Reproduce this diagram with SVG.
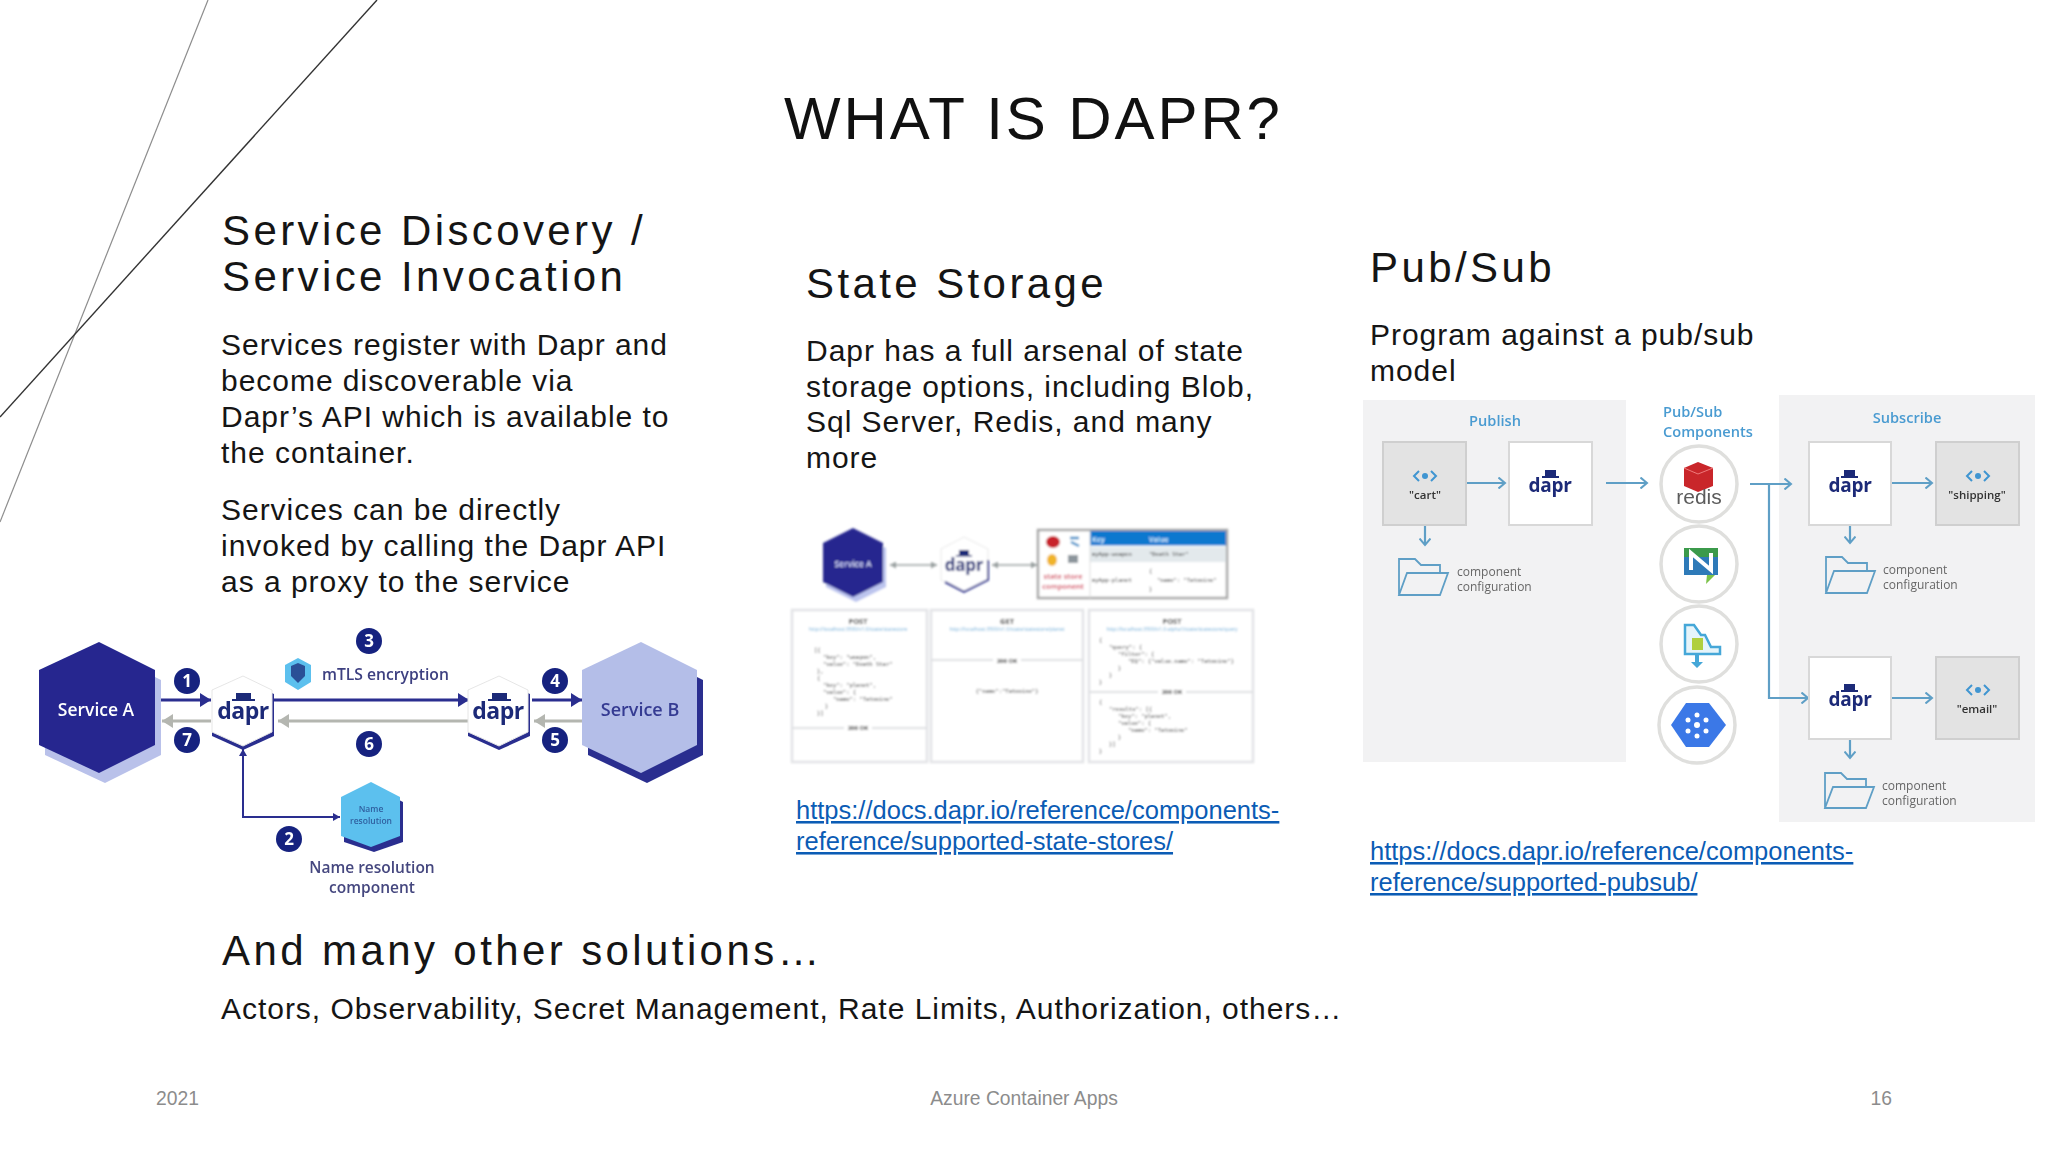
<svg xmlns="http://www.w3.org/2000/svg" width="2048" height="1152" viewBox="0 0 2048 1152">
<style>
text{font-family:"Liberation Sans",Arial,sans-serif}
.title{font-size:60px;letter-spacing:2.9px;fill:#111}
.h{font-size:42px;letter-spacing:3.4px;fill:#151515}
.b{font-size:30px;letter-spacing:.97px;fill:#151515}
.l{font-size:25.5px;fill:#0b5cb5;text-decoration:underline}
.f{font-size:19.3px;fill:#8c8c8c}
.os{font-family:"Open Sans","Noto Sans",sans-serif}
.w6{font-weight:600}
.dapr{font-family:"Open Sans","Noto Sans",sans-serif;font-weight:700;fill:#1f2a78;text-anchor:middle}
.num{font-family:"Open Sans",sans-serif;font-size:17px;font-weight:700;fill:#fff;text-anchor:middle}
.ln{fill:none;stroke:#2a2f8f;stroke-width:3}
.gl{fill:none;stroke:#b4b6b0;stroke-width:3}
.bl{fill:none;stroke:#5f9fc6;stroke-width:2.2}
.pubt{font-family:"Open Sans",sans-serif;font-weight:600;font-size:14.6px;fill:#4a9bd1}
.cfg{font-family:"Open Sans",sans-serif;font-size:12px;fill:#666}
.svc{font-family:"Open Sans",sans-serif;font-size:11.5px;font-weight:600;fill:#333;text-anchor:middle}
.box{fill:#e3e3e3;stroke:#cfcfcf;stroke-width:2}
.wb{fill:#fff;stroke:#d8d8d8;stroke-width:2}
.circ{fill:#fff;stroke:#dfdfdd;stroke-width:3.5}
.panel{fill:#fff;stroke:#e2e3e6;stroke-width:2.5}
.code{font-family:"DejaVu Sans Mono",monospace;font-size:5.5px;fill:#333}
.url{font-family:"Open Sans",sans-serif;font-size:5px;fill:#6cacd8;text-anchor:middle}
.cap{font-family:"Open Sans",sans-serif;font-weight:700;font-size:7.5px;fill:#333;text-anchor:middle}
.ok{font-family:"Open Sans",sans-serif;font-weight:700;font-size:6px;fill:#333;text-anchor:middle}
.div{stroke:#dfe0e3;stroke-width:2}
.folder{fill:none;stroke:#5f9fc6;stroke-width:1.8}
</style>
<defs>
<filter id="blur" x="-5%" y="-5%" width="110%" height="110%"><feGaussianBlur stdDeviation="0.6"/></filter>
<filter id="blur2" x="-5%" y="-5%" width="110%" height="110%"><feGaussianBlur stdDeviation="0.8"/></filter>
<marker id="an" markerUnits="userSpaceOnUse" markerWidth="12" markerHeight="14" refX="11" refY="7" orient="auto"><path d="M0 0L11 7L0 14z" fill="#2a2f8f"/></marker>
<marker id="ag" markerUnits="userSpaceOnUse" markerWidth="12" markerHeight="14" refX="11" refY="7" orient="auto"><path d="M0 0L11 7L0 14z" fill="#b4b6b0"/></marker>
<marker id="as" markerUnits="userSpaceOnUse" markerWidth="8" markerHeight="8" refX="7" refY="4" orient="auto"><path d="M0 0L7 4L0 8z" fill="#2a2f8f"/></marker>
<marker id="ab" markerUnits="userSpaceOnUse" markerWidth="9" markerHeight="12" refX="7.5" refY="6" orient="auto"><path d="M1 0.5L7.5 6L1 11.5" fill="none" stroke="#5f9fc6" stroke-width="2"/></marker>
<marker id="sg" markerUnits="userSpaceOnUse" markerWidth="7" markerHeight="7" refX="6" refY="3.5" orient="auto-start-reverse"><path d="M0 0L6 3.5L0 7z" fill="#9aa0a0"/></marker>
</defs>
<rect width="2048" height="1152" fill="#fff"/>
<g id="decor" fill="none">
<path d="M208 0L0 522" stroke="#8d8d8d" stroke-width="1.2"/>
<path d="M377 0L0 417" stroke="#333" stroke-width="1.4"/>
</g>
<text class="title" x="784" y="139">WHAT IS DAPR?</text>
<g id="col1">
<text class="h" x="222" y="245">Service Discovery /</text>
<text class="h" x="222" y="291">Service Invocation</text>
<text class="b" x="221" y="355">Services register with Dapr and</text>
<text class="b" x="221" y="391">become discoverable via</text>
<text class="b" x="221" y="427">Dapr’s API which is available to</text>
<text class="b" x="221" y="463">the container.</text>
<text class="b" x="221" y="520">Services can be directly</text>
<text class="b" x="221" y="556">invoked by calling the Dapr API</text>
<text class="b" x="221" y="592">as a proxy to the service</text>
</g>
<g id="col2">
<text class="h" x="806" y="298">State Storage</text>
<text class="b" x="806" y="361">Dapr has a full arsenal of state</text>
<text class="b" x="806" y="397">storage options, including Blob,</text>
<text class="b" x="806" y="432">Sql Server, Redis, and many</text>
<text class="b" x="806" y="468">more</text>
<text class="l" x="796" y="819">https://docs.dapr.io/reference/components-</text>
<text class="l" x="796" y="850">reference/supported-state-stores/</text>
</g>
<g id="col3">
<text class="h" x="1370" y="282">Pub/Sub</text>
<text class="b" x="1370" y="345">Program against a pub/sub</text>
<text class="b" x="1370" y="381">model</text>
<text class="l" x="1370" y="860">https://docs.dapr.io/reference/components-</text>
<text class="l" x="1370" y="891">reference/supported-pubsub/</text>
</g>
<g id="more">
<text class="h" x="222" y="965">And many other solutions…</text>
<text class="b" x="221" y="1019">Actors, Observability, Secret Management, Rate Limits, Authorization, others…</text>
</g>
<g id="footer">
<text class="f" x="156" y="1105">2021</text>
<text class="f" x="1024" y="1105" text-anchor="middle">Azure Container Apps</text>
<text class="f" x="1892" y="1105" text-anchor="end">16</text>
</g>

<g id="invocation-diagram" filter="url(#blur)">
<g id="connectors-invocation">
<path class="ln" d="M161 700H211" marker-end="url(#an)"/>
<path class="gl" d="M211 721H162" marker-end="url(#ag)"/>
<path class="ln" d="M274 700H469" marker-end="url(#an)"/>
<path class="gl" d="M468 721H278" marker-end="url(#ag)"/>
<path class="ln" d="M532 700H582" marker-end="url(#an)"/>
<path class="gl" d="M582 721H534" marker-end="url(#ag)"/>
<path d="M340 817H243V749" fill="none" stroke="#2a2f8f" stroke-width="2" marker-end="url(#as)"/>
<path d="M334 817H340" fill="none" stroke="#2a2f8f" stroke-width="2" marker-end="url(#as)"/>
</g>
<g id="service-a">
<polygon points="105,652 161,680 161,755 105,783 45,755 45,680" fill="#b9c1ea"/>
<polygon points="99,642 155,670 155,745 99,773 39,745 39,670" fill="#25288f"/>
<text class="os w6" x="96" y="716" font-size="17.500" fill="#fff" text-anchor="middle">Service A</text>
</g>
<g id="dapr-a">
<polygon points="243,680 274,694 274,736 243,750 212,736 212,694" fill="#2a2f8f"/>
<polygon points="243,676 272,690 272,732 243,746 212,732 212,690" fill="#fff" stroke="#e6e6e6"/>
<rect x="236" y="693" width="15" height="7" fill="#1f2a78"/><rect x="232" y="699" width="23" height="2" fill="#1f2a78"/>
<text class="dapr" x="243" y="719" font-size="23" letter-spacing="-.5">dapr</text>
</g>
<g id="dapr-b">
<polygon points="499,680 530,694 530,736 499,750 468,736 468,694" fill="#2a2f8f"/>
<polygon points="499,676 528,690 528,732 499,746 468,732 468,690" fill="#fff" stroke="#e6e6e6"/>
<rect x="492" y="693" width="15" height="7" fill="#1f2a78"/><rect x="488" y="699" width="23" height="2" fill="#1f2a78"/>
<text class="dapr" x="498" y="719" font-size="23" letter-spacing="-.5">dapr</text>
</g>
<g id="service-b">
<polygon points="647,652 703,680 703,755 647,783 588,755 588,680" fill="#2a2f8f"/>
<polygon points="641,642 697,670 697,745 641,773 582,745 582,670" fill="#b4bee8"/>
<text class="os w6" x="640" y="716" font-size="18" fill="#343a92" text-anchor="middle">Service B</text>
</g>
<g id="name-resolution">
<polygon points="374,787 403,802 403,842 374,852 344,842 344,802" fill="#2a2f8f"/>
<polygon points="371,782 400,797 400,836 371,847 341,836 341,797" fill="#5cc0ee"/>
<text class="os" x="371" y="812" font-size="8.500" font-weight="600" fill="#2f5f9f" text-anchor="middle">Name</text>
<text class="os" x="371" y="824" font-size="8.500" font-weight="600" fill="#2f5f9f" text-anchor="middle">resolution</text>
<text class="os w6" x="372" y="873" font-size="15.500" fill="#45477f" text-anchor="middle">Name resolution</text>
<text class="os w6" x="372" y="893" font-size="15.500" fill="#45477f" text-anchor="middle">component</text>
</g>
<g id="mtls">
<polygon points="298,658 311,665 311,682 298,690 285,682 285,665" fill="#5cc0ee"/>
<path d="M291 666L298 663L305 666V676L298 683L291 676z" fill="#2a4f96"/>
<text class="os w6" x="322" y="680" font-size="15.700" fill="#3c3f80">mTLS encryption</text>
</g>
<g id="badges">
<circle cx="187" cy="681" r="13" fill="#14207f"/><text class="num" x="187" y="687">1</text>
<circle cx="187" cy="740" r="13" fill="#14207f"/><text class="num" x="187" y="746">7</text>
<circle cx="369" cy="641" r="13" fill="#14207f"/><text class="num" x="369" y="647">3</text>
<circle cx="369" cy="744" r="13" fill="#14207f"/><text class="num" x="369" y="750">6</text>
<circle cx="555" cy="681" r="13" fill="#14207f"/><text class="num" x="555" y="687">4</text>
<circle cx="555" cy="740" r="13" fill="#14207f"/><text class="num" x="555" y="746">5</text>
<circle cx="289" cy="839" r="13" fill="#14207f"/><text class="num" x="289" y="845">2</text>
</g>
</g>

<g id="state-diagram" filter="url(#blur2)">
<g id="connectors-state">
<path d="M890 565H937" fill="none" stroke="#9aa0a0" stroke-width="1.5" marker-start="url(#sg)" marker-end="url(#sg)"/>
<path d="M992 565H1037" fill="none" stroke="#9aa0a0" stroke-width="1.5" marker-start="url(#sg)" marker-end="url(#sg)"/>
</g>
<g id="state-service-a">
<polygon points="856,533 886,548 886,587 856,602 826,587 826,548" fill="#bcc4ee"/>
<polygon points="853,528 883,543 883,582 853,597 823,582 823,543" fill="#25288f"/>
<text class="os w6" x="853" y="567" font-size="8.500" fill="#dfe3ff" text-anchor="middle">Service A</text>
</g>
<g id="state-dapr">
<polygon points="964,537 988,549 988,580 964,592 941,580 941,549" fill="#fff" stroke="#e8e8e8"/>
<path d="M988 560V580L964 592L945 582" fill="none" stroke="#2a2f8f" stroke-width="2"/>
<rect x="959" y="550" width="10" height="6" fill="#1f2a78"/><rect x="956" y="555" width="16" height="1.500" fill="#1f2a78"/>
<text class="dapr" x="964" y="571" font-size="17" letter-spacing="-.3">dapr</text>
</g>
<g id="state-store">
<rect x="1038" y="530" width="189" height="68" fill="#fff" stroke="#a8a8a8" stroke-width="2.500"/>
<rect x="1090" y="531" width="136" height="14.500" fill="#0a78cf"/>
<rect x="1090" y="547" width="136" height="15" fill="#e3e9ec"/>
<path d="M1090 531V598" stroke="#ddd"/>
<text class="os" x="1092" y="542" font-size="7" font-weight="700" fill="#d5ecff">Key</text>
<text class="os" x="1149" y="542" font-size="7" font-weight="700" fill="#d5ecff">Value</text>
<text class="code" x="1092" y="556">myApp-weapon</text>
<text class="code" x="1149" y="556">"Death Star"</text>
<text class="code" x="1092" y="582">myApp-planet</text>
<text class="code" x="1149" y="573">{</text>
<text class="code" x="1157" y="582">"name": "Tatooine"</text>
<text class="code" x="1149" y="591">}</text>
<ellipse cx="1053" cy="542" rx="7" ry="6" fill="#c8202a"/>
<path d="M1070 538H1079M1071 542L1079 546" stroke="#2e8bc7" stroke-width="2.500" fill="none"/>
<ellipse cx="1052" cy="560" rx="5" ry="6" fill="#f0b429"/>
<rect x="1068" y="555" width="10" height="8" fill="#8c959c"/>
<text class="os" x="1063" y="579" font-size="7.500" font-weight="600" fill="#d0354e" text-anchor="middle">state store</text>
<text class="os" x="1063" y="589" font-size="7.500" font-weight="600" fill="#d0354e" text-anchor="middle">component</text>
</g>
<g id="state-post-1">
<rect class="panel" x="792" y="610" width="135" height="152"/>
<path class="div" d="M792 728H927"/>
<text class="cap" x="858" y="624">POST</text>
<text class="url" x="858" y="631">http://localhost:3500/v1.0/state/statestore</text>
<text class="code" x="814" y="652">[{</text>
<text class="code" x="823" y="659">"key": "weapon",</text>
<text class="code" x="823" y="666">"value": "Death Star"</text>
<text class="code" x="817" y="673">},</text>
<text class="code" x="817" y="680">{</text>
<text class="code" x="823" y="687">"key": "planet",</text>
<text class="code" x="823" y="694">"value": {</text>
<text class="code" x="833" y="701">"name": "Tatooine"</text>
<text class="code" x="825" y="708">}</text>
<text class="code" x="817" y="715">}]</text>
<rect x="844" y="723" width="28" height="8" fill="#fff"/>
<text class="ok" x="858" y="730">200 OK</text>
</g>
<g id="state-get">
<rect class="panel" x="931" y="610" width="152" height="152"/>
<path class="div" d="M931 660H1083"/>
<text class="cap" x="1007" y="624">GET</text>
<text class="url" x="1007" y="631">http://localhost:3500/v1.0/state/statestore/planet</text>
<rect x="993" y="656" width="28" height="8" fill="#fff"/>
<text class="ok" x="1007" y="663">200 OK</text>
<text class="code" x="1007" y="693" text-anchor="middle">{"name":"Tatooine"}</text>
</g>
<g id="state-post-2">
<rect class="panel" x="1089" y="610" width="164" height="152"/>
<path class="div" d="M1089 692H1253"/>
<text class="cap" x="1172" y="624">POST</text>
<text class="url" x="1172" y="631">http://localhost:3500/v1.0-alpha1/state/statestore/query</text>
<text class="code" x="1099" y="642">{</text>
<text class="code" x="1109" y="649">"query": {</text>
<text class="code" x="1118" y="656">"filter": {</text>
<text class="code" x="1128" y="663">"EQ": {"value.name": "Tatooine"}</text>
<text class="code" x="1118" y="670">}</text>
<text class="code" x="1109" y="677">}</text>
<text class="code" x="1099" y="684">}</text>
<rect x="1158" y="687" width="28" height="8" fill="#fff"/>
<text class="ok" x="1172" y="694">200 OK</text>
<text class="code" x="1099" y="704">{</text>
<text class="code" x="1109" y="711">"results": [{</text>
<text class="code" x="1118" y="718">"key": "planet",</text>
<text class="code" x="1118" y="725">"value": {</text>
<text class="code" x="1128" y="732">"name": "Tatooine"</text>
<text class="code" x="1118" y="739">}</text>
<text class="code" x="1109" y="746">}]</text>
<text class="code" x="1099" y="753">}</text>
</g>
</g>

<g id="pubsub-diagram" filter="url(#blur)">
<rect id="publish-panel" x="1363" y="400" width="263" height="362" fill="#f2f2f3"/>
<rect id="subscribe-panel" x="1779" y="395" width="256" height="427" fill="#f2f2f3"/>
<text class="pubt" x="1495" y="426" text-anchor="middle">Publish</text>
<text class="pubt" x="1907" y="423" text-anchor="middle">Subscribe</text>
<text class="pubt" x="1663" y="417">Pub/Sub</text>
<text class="pubt" x="1663" y="437">Components</text>
<g id="connectors-pubsub">
<path class="bl" d="M1465 483H1505" marker-end="url(#ab)"/>
<path class="bl" d="M1606 483H1647" marker-end="url(#ab)"/>
<path class="bl" d="M1750 484H1791" marker-end="url(#ab)"/>
<path class="bl" d="M1769 484V698H1808" marker-end="url(#ab)"/>
<path class="bl" d="M1892 483H1932" marker-end="url(#ab)"/>
<path class="bl" d="M1892 698H1932" marker-end="url(#ab)"/>
<path class="bl" d="M1425 525V545" marker-end="url(#ab)"/>
<path class="bl" d="M1850 525V543" marker-end="url(#ab)"/>
<path class="bl" d="M1850 740V758" marker-end="url(#ab)"/>
</g>
<g id="cart">
<rect class="box" x="1383" y="442" width="83" height="83"/>
<path d="M1419 471L1414 476L1419 481M1431 471L1436 476L1431 481" fill="none" stroke="#3f95d1" stroke-width="2"/><circle cx="1425" cy="476" r="3" fill="#3f95d1"/>
<text class="svc" x="1425" y="499">"cart"</text>
</g>
<g id="pub-dapr">
<rect class="wb" x="1509" y="442" width="83" height="83"/>
<rect x="1545" y="470" width="11" height="7" fill="#1f2a78"/><rect x="1542" y="476" width="17" height="2" fill="#1f2a78"/>
<text class="dapr" x="1550" y="492" font-size="19" letter-spacing="-.3">dapr</text>
</g>
<g id="sub-dapr-1">
<rect class="wb" x="1809" y="442" width="82" height="83"/>
<rect x="1844" y="470" width="11" height="7" fill="#1f2a78"/><rect x="1841" y="476" width="17" height="2" fill="#1f2a78"/>
<text class="dapr" x="1850" y="492" font-size="19" letter-spacing="-.3">dapr</text>
</g>
<g id="shipping">
<rect class="box" x="1936" y="442" width="83" height="83"/>
<path d="M1972 471L1967 476L1972 481M1984 471L1989 476L1984 481" fill="none" stroke="#3f95d1" stroke-width="2"/><circle cx="1978" cy="476" r="3" fill="#3f95d1"/>
<text class="svc" x="1977" y="499">"shipping"</text>
</g>
<g id="sub-dapr-2">
<rect class="wb" x="1809" y="657" width="82" height="82"/>
<rect x="1844" y="684" width="11" height="7" fill="#1f2a78"/><rect x="1841" y="690" width="17" height="2" fill="#1f2a78"/>
<text class="dapr" x="1850" y="706" font-size="19" letter-spacing="-.3">dapr</text>
</g>
<g id="email">
<rect class="box" x="1936" y="657" width="83" height="82"/>
<path d="M1972 685L1967 690L1972 695M1984 685L1989 690L1984 695" fill="none" stroke="#3f95d1" stroke-width="2"/><circle cx="1978" cy="690" r="3" fill="#3f95d1"/>
<text class="svc" x="1977" y="713">"email"</text>
</g>
<g id="cfg-pub">
<path class="folder" d="M1399 595V559H1415L1421 565H1440V573M1399 595L1407 573H1448L1440 595z"/>
<text class="cfg" x="1457" y="576">component</text><text class="cfg" x="1457" y="591">configuration</text>
</g>
<g id="cfg-sub-1">
<path class="folder" d="M1826 593V557H1842L1848 563H1867V571M1826 593L1834 571H1875L1867 593z"/>
<text class="cfg" x="1883" y="574">component</text><text class="cfg" x="1883" y="589">configuration</text>
</g>
<g id="cfg-sub-2">
<path class="folder" d="M1825 808V773H1841L1847 779H1866V787M1825 808L1833 787H1874L1866 808z"/>
<text class="cfg" x="1882" y="790">component</text><text class="cfg" x="1882" y="805">configuration</text>
</g>
<g id="redis">
<circle class="circ" cx="1699" cy="484" r="38"/>
<path d="M1684 468L1698 462L1713 468V486L1698 492L1684 486z" fill="#c9252b"/>
<path d="M1684 468L1698 474L1713 468" fill="none" stroke="#ee7a7a"/>
<text x="1699" y="504" font-family="Open Sans,sans-serif" font-size="21" fill="#5b5b5b" text-anchor="middle">redis</text>
</g>
<g id="nats">
<circle class="circ" cx="1699" cy="564" r="38"/>
<rect x="1684" y="548" width="34" height="27" fill="#2d7ab8"/><rect x="1684" y="548" width="34" height="9" fill="#3a9a4b"/>
<path d="M1707 575L1706 584L1715 575z" fill="#7cc24a"/>
<path d="M1691 570V553L1711 570V553" fill="none" stroke="#fff" stroke-width="4"/>
</g>
<g id="servicebus">
<circle class="circ" cx="1699" cy="644" r="38"/>
<path d="M1685 625H1694L1701 635H1705L1711 647H1720V654H1685z" fill="#e6f4fa" stroke="#44a7d8" stroke-width="2.500"/>
<rect x="1692" y="638" width="11" height="12" fill="#b0cf3c"/>
<path d="M1695 654V662H1691L1697 668L1703 662H1699V654" fill="#44a7d8"/>
</g>
<g id="gcp">
<circle class="circ" cx="1697" cy="725" r="38"/>
<polygon points="1686,703 1709,703 1726,725 1709,747 1686,747 1671,725" fill="#3b78e7"/>
<g fill="#fff"><circle cx="1697" cy="725" r="3"/><circle cx="1697" cy="715" r="2.500"/><circle cx="1697" cy="736" r="2.500"/><circle cx="1688" cy="720" r="2.500"/><circle cx="1706" cy="720" r="2.500"/><circle cx="1688" cy="731" r="2.500"/><circle cx="1706" cy="731" r="2.500"/></g>
</g>
</g>
</svg>
